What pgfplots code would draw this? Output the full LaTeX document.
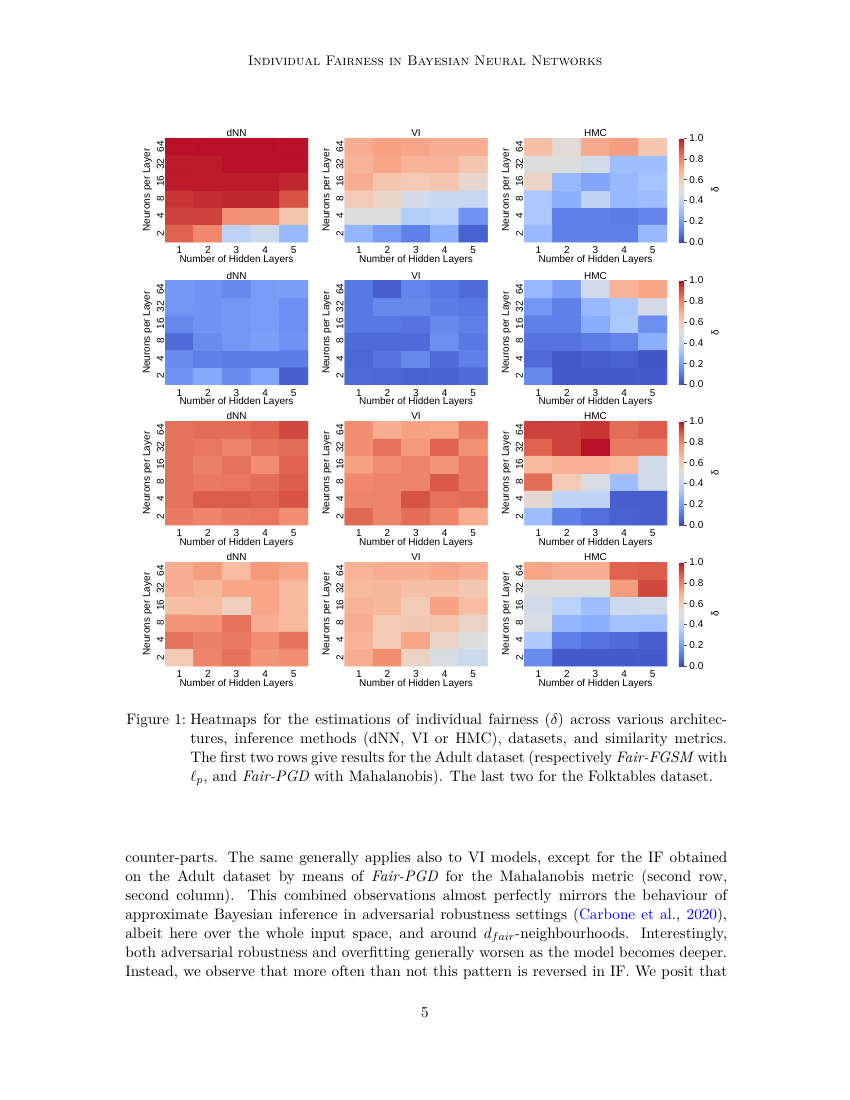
\documentclass[border=0pt]{standalone}
\usepackage{pgfplots}
\pgfplotsset{compat=1.18}
\usepackage{pgfplotstable}
\usepackage{fontspec}
\newfontfamily\chartfont{Liberation Sans}
\newcommand\cf{\chartfont\fontsize{7.2}{8.6}\selectfont}
\newcommand\tf{\fontsize{10.95}{13.6}\selectfont}

\pgfplotsset{
 colormap={coolwarm}{rgb255=(59,76,192) rgb255=(68,90,204) rgb255=(77,104,215) rgb255=(87,117,225)
 rgb255=(98,130,234) rgb255=(108,142,241) rgb255=(119,154,247) rgb255=(130,165,251)
 rgb255=(141,176,254) rgb255=(152,185,255) rgb255=(163,194,255) rgb255=(174,201,253)
 rgb255=(184,208,249) rgb255=(194,213,244) rgb255=(204,217,238) rgb255=(213,219,230)
 rgb255=(221,221,221) rgb255=(229,216,209) rgb255=(236,211,197) rgb255=(241,204,184)
 rgb255=(245,196,173) rgb255=(247,187,160) rgb255=(247,177,148) rgb255=(247,166,135)
 rgb255=(244,154,123) rgb255=(241,141,111) rgb255=(236,127,99) rgb255=(229,112,88)
 rgb255=(222,96,77) rgb255=(213,80,66) rgb255=(203,62,56) rgb255=(192,40,47) rgb255=(180,4,38)},
 hm/.style={
  scale only axis, width=102.96pt, height=74.88pt, anchor=north west,
  xmin=0.5, xmax=5.5, ymin=-0.5, ymax=5.5, enlargelimits=false,
  xtick={1,2,3,4,5}, xticklabels={1,2,3,4,5},
  ytick={0,1,2,3,4,5}, yticklabels={2,4,8,16,32,64},
  axis line style={draw=none}, major tick length=0pt, tick style={draw=none},
  colormap name=coolwarm, point meta min=0, point meta max=1,
  xlabel={Number of Hidden Layers}, ylabel={Neurons per Layer},
  label style={font=\cf},
  xlabel style={at={(axis description cs:0.5,0)}, anchor=center, yshift=-12.8pt},
  ylabel style={at={(axis description cs:-0.123,0.5)}, anchor=center},
  every axis title shift=0pt,
  title style={font=\cf, at={(axis description cs:0.5,1)}, anchor=center, yshift=3.5pt},
  tick label style={font=\cf},
  xticklabel style={anchor=north, inner sep=0pt, yshift=-3.2pt},
  yticklabel style={rotate=90, anchor=south, inner sep=0.6pt},
 },
 cb/.style={colorbar, colorbar style={
  at={([xshift=6.5pt]parent axis.north east)}, anchor=north west,
  width=3.8pt,
  ytick={0,0.2,0.4,0.6,0.8,1},
  axis line style={draw=none},
  tick align=outside, major tick length=2pt, ytick pos=right,
  tick style={black!70, line width=0.4pt},
  ylabel={δ}, ylabel style={font=\cf, at={(axis description cs:6.87,0.5)}, anchor=center},
  yticklabel style={font=\cf, anchor=west, inner sep=0pt, xshift=1.6pt,
    /pgf/number format/.cd, fixed, fixed zerofill, precision=1, assume math mode=true},
 }},
}

% ---- data: x = hidden layers, y = index of neurons (0:2,1:4,2:8,3:16,4:32,5:64)
\pgfplotstableread[row sep=\\]{x y v\\
1 0 .87\\ 2 0 .79\\ 3 0 .39\\ 4 0 .44\\ 5 0 .28\\
1 1 .93\\ 2 1 .93\\ 3 1 .77\\ 4 1 .77\\ 5 1 .63\\
1 2 .95\\ 2 2 .96\\ 3 2 .97\\ 4 2 .97\\ 5 2 .90\\
1 3 .98\\ 2 3 .98\\ 3 3 .98\\ 4 3 .98\\ 5 3 .97\\
1 4 .98\\ 2 4 .98\\ 3 4 .99\\ 4 4 .99\\ 5 4 .99\\
1 5 .99\\ 2 5 .99\\ 3 5 .99\\ 4 5 .99\\ 5 5 .99\\
}\dAa
\pgfplotstableread[row sep=\\]{x y v\\
1 0 .27\\ 2 0 .19\\ 3 0 .12\\ 4 0 .25\\ 5 0 .05\\
1 1 .50\\ 2 1 .50\\ 3 1 .36\\ 4 1 .38\\ 5 1 .17\\
1 2 .60\\ 2 2 .55\\ 3 2 .47\\ 4 2 .42\\ 5 2 .42\\
1 3 .70\\ 2 3 .62\\ 3 3 .60\\ 4 3 .62\\ 5 3 .54\\
1 4 .68\\ 2 4 .72\\ 3 4 .68\\ 4 4 .68\\ 5 4 .62\\
1 5 .70\\ 2 5 .73\\ 3 5 .72\\ 4 5 .70\\ 5 5 .70\\
}\dAb
\pgfplotstableread[row sep=\\]{x y v\\
1 0 .28\\ 2 0 .12\\ 3 0 .12\\ 4 0 .12\\ 5 0 .28\\
1 1 .34\\ 2 1 .12\\ 3 1 .12\\ 4 1 .11\\ 5 1 .13\\
1 2 .34\\ 2 2 .25\\ 3 2 .40\\ 4 2 .28\\ 5 2 .30\\
1 3 .56\\ 2 3 .28\\ 3 3 .22\\ 4 3 .28\\ 5 3 .32\\
1 4 .50\\ 2 4 .50\\ 3 4 .46\\ 4 4 .30\\ 5 4 .30\\
1 5 .64\\ 2 5 .52\\ 3 5 .71\\ 4 5 .74\\ 5 5 .62\\
}\dAc
\pgfplotstableread[row sep=\\]{x y v\\
1 0 .17\\ 2 0 .23\\ 3 0 .15\\ 4 0 .22\\ 5 0 .04\\
1 1 .15\\ 2 1 .12\\ 3 1 .11\\ 4 1 .11\\ 5 1 .11\\
1 2 .07\\ 2 2 .15\\ 3 2 .18\\ 4 2 .20\\ 5 2 .17\\
1 3 .14\\ 2 3 .17\\ 3 3 .18\\ 4 3 .19\\ 5 3 .16\\
1 4 .18\\ 2 4 .17\\ 3 4 .18\\ 4 4 .19\\ 5 4 .16\\
1 5 .18\\ 2 5 .17\\ 3 5 .14\\ 4 5 .19\\ 5 5 .20\\
}\dBa
\pgfplotstableread[row sep=\\]{x y v\\
1 0 .07\\ 2 0 .06\\ 3 0 .05\\ 4 0 .05\\ 5 0 .07\\
1 1 .06\\ 2 1 .09\\ 3 1 .14\\ 4 1 .07\\ 5 1 .12\\
1 2 .07\\ 2 2 .07\\ 3 2 .07\\ 4 2 .16\\ 5 2 .10\\
1 3 .10\\ 2 3 .10\\ 3 3 .09\\ 4 3 .14\\ 5 3 .12\\
1 4 .10\\ 2 4 .14\\ 3 4 .14\\ 4 4 .11\\ 5 4 .10\\
1 5 .10\\ 2 5 .04\\ 3 5 .13\\ 4 5 .10\\ 5 5 .07\\
}\dBb
\pgfplotstableread[row sep=\\]{x y v\\
1 0 .14\\ 2 0 .03\\ 3 0 .03\\ 4 0 .03\\ 5 0 .03\\
1 1 .07\\ 2 1 .03\\ 3 1 .04\\ 4 1 .05\\ 5 1 .02\\
1 2 .09\\ 2 2 .09\\ 3 2 .11\\ 4 2 .13\\ 5 2 .25\\
1 3 .12\\ 2 3 .12\\ 3 3 .24\\ 4 3 .34\\ 5 3 .16\\
1 4 .18\\ 2 4 .12\\ 3 4 .28\\ 4 4 .33\\ 5 4 .47\\
1 5 .28\\ 2 5 .20\\ 3 5 .45\\ 4 5 .68\\ 5 5 .72\\
}\dBc
\pgfplotstableread[row sep=\\]{x y v\\
1 0 .82\\ 2 0 .80\\ 3 0 .82\\ 4 0 .83\\ 5 0 .78\\
1 1 .84\\ 2 1 .88\\ 3 1 .88\\ 4 1 .87\\ 5 1 .90\\
1 2 .84\\ 2 2 .82\\ 3 2 .83\\ 4 2 .85\\ 5 2 .88\\
1 3 .84\\ 2 3 .81\\ 3 3 .84\\ 4 3 .78\\ 5 3 .87\\
1 4 .84\\ 2 4 .83\\ 3 4 .80\\ 4 4 .84\\ 5 4 .85\\
1 5 .84\\ 2 5 .85\\ 3 5 .85\\ 4 5 .87\\ 5 5 .92\\
}\dCa
\pgfplotstableread[row sep=\\]{x y v\\
1 0 .86\\ 2 0 .80\\ 3 0 .85\\ 4 0 .80\\ 5 0 .70\\
1 1 .80\\ 2 1 .80\\ 3 1 .90\\ 4 1 .84\\ 5 1 .85\\
1 2 .79\\ 2 2 .80\\ 3 2 .80\\ 4 2 .89\\ 5 2 .82\\
1 3 .73\\ 2 3 .78\\ 3 3 .80\\ 4 3 .76\\ 5 3 .82\\
1 4 .78\\ 2 4 .84\\ 3 4 .75\\ 4 4 .87\\ 5 4 .77\\
1 5 .78\\ 2 5 .70\\ 3 5 .73\\ 4 5 .72\\ 5 5 .82\\
}\dCb
\pgfplotstableread[row sep=\\]{x y v\\
1 0 .30\\ 2 0 .12\\ 3 0 .08\\ 4 0 .05\\ 5 0 .04\\
1 1 .53\\ 2 1 .40\\ 3 1 .40\\ 4 1 .04\\ 5 1 .04\\
1 2 .85\\ 2 2 .60\\ 3 2 .48\\ 4 2 .30\\ 5 2 .46\\
1 3 .66\\ 2 3 .69\\ 3 3 .69\\ 4 3 .66\\ 5 3 .46\\
1 4 .87\\ 2 4 .93\\ 3 4 .99\\ 4 4 .82\\ 5 4 .82\\
1 5 .93\\ 2 5 .93\\ 3 5 .95\\ 4 5 .85\\ 5 5 .88\\
}\dCc
\pgfplotstableread[row sep=\\]{x y v\\
1 0 .60\\ 2 0 .80\\ 3 0 .84\\ 4 0 .76\\ 5 0 .78\\
1 1 .84\\ 2 1 .81\\ 3 1 .82\\ 4 1 .78\\ 5 1 .84\\
1 2 .76\\ 2 2 .77\\ 3 2 .84\\ 4 2 .70\\ 5 2 .66\\
1 3 .64\\ 2 3 .65\\ 3 3 .58\\ 4 3 .72\\ 5 3 .66\\
1 4 .70\\ 2 4 .67\\ 3 4 .72\\ 4 4 .72\\ 5 4 .66\\
1 5 .70\\ 2 5 .74\\ 3 5 .65\\ 4 5 .75\\ 5 5 .72\\
}\dDa
\pgfplotstableread[row sep=\\]{x y v\\
1 0 .70\\ 2 0 .78\\ 3 0 .56\\ 4 0 .48\\ 5 0 .44\\
1 1 .68\\ 2 1 .60\\ 3 1 .72\\ 4 1 .56\\ 5 1 .50\\
1 2 .70\\ 2 2 .60\\ 3 2 .61\\ 4 2 .63\\ 5 2 .56\\
1 3 .68\\ 2 3 .67\\ 3 3 .60\\ 4 3 .73\\ 5 3 .65\\
1 4 .66\\ 2 4 .67\\ 3 4 .64\\ 4 4 .64\\ 5 4 .61\\
1 5 .68\\ 2 5 .70\\ 3 5 .70\\ 4 5 .72\\ 5 5 .70\\
}\dDb
\pgfplotstableread[row sep=\\]{x y v\\
1 0 .15\\ 2 0 .03\\ 3 0 .03\\ 4 0 .03\\ 5 0 .03\\
1 1 .35\\ 2 1 .12\\ 3 1 .09\\ 4 1 .07\\ 5 1 .04\\
1 2 .48\\ 2 2 .27\\ 3 2 .25\\ 4 2 .31\\ 5 2 .31\\
1 3 .46\\ 2 3 .38\\ 3 3 .30\\ 4 3 .44\\ 5 3 .46\\
1 4 .50\\ 2 4 .50\\ 3 4 .50\\ 4 4 .74\\ 5 4 .92\\
1 5 .72\\ 2 5 .70\\ 3 5 .70\\ 4 5 .87\\ 5 5 .88\\
}\dDc

\newcommand\heat[5]{%
\begin{axis}[hm, at={({#1*0.72pt},{-#2*0.72pt})}, title={#3}, #5]
\addplot[matrix plot*, mesh/cols=5, point meta=explicit] table[x=x,y=y,meta=v]{#4};
\end{axis}}

\begin{document}
\begin{tikzpicture}
\path[use as bounding box] (0,0) rectangle (612pt,-792pt);
\heat{165}{138}{dNN}{\dAa}{}
\heat{344.5}{138}{VI}{\dAb}{}
\heat{524}{138}{HMC}{\dAc}{cb}
\heat{165}{280.5}{dNN}{\dBa}{}
\heat{344.5}{280.5}{VI}{\dBb}{}
\heat{524}{280.5}{HMC}{\dBc}{cb}
\heat{165}{421}{dNN}{\dCa}{}
\heat{344.5}{421}{VI}{\dCb}{}
\heat{524}{421}{HMC}{\dCc}{cb}
\heat{165}{562}{dNN}{\dDa}{}
\heat{344.5}{562}{VI}{\dDb}{}
\heat{524}{562}{HMC}{\dDc}{cb}
\begin{scope}[x=0.72pt,y=-0.72pt]
\node[anchor=base, inner sep=0pt] at (425,66) {\fontsize{10}{12}\selectfont\textsc{Individual Fairness in Bayesian Neural Networks}};
\node[anchor=base west, inner sep=0pt] at (126,724.5) {\tf Figure 1:};
\node[anchor=base west, inner sep=0pt] at (190,724.5) {\tf\makebox[386.6pt][s]{Heatmaps for the estimations of individual fairness ($\delta$) across various architec-}};
\node[anchor=base west, inner sep=0pt] at (190,743.4) {\tf\makebox[386.6pt][s]{tures, inference methods (dNN, VI or HMC), datasets, and similarity metrics.}};
\node[anchor=base west, inner sep=0pt] at (190,762.3) {\tf\makebox[386.6pt][s]{The first two rows give results for the Adult dataset (respectively \textit{Fair-FGSM} with}};
\node[anchor=base west, inner sep=0pt] at (190,781.2) {\tf $\ell_p$, and \textit{Fair-PGD} with Mahalanobis). The last two for the Folktables dataset.};
\node[anchor=base west, inner sep=0pt] at (125,862.6) {\tf\makebox[433.4pt][s]{counter-parts. The same generally applies also to VI models, except for the IF obtained}};
\node[anchor=base west, inner sep=0pt] at (125,881.5) {\tf\makebox[433.4pt][s]{on the Adult dataset by means of \textit{Fair-PGD} for the Mahalanobis metric (second row,}};
\node[anchor=base west, inner sep=0pt] at (125,900.4) {\tf\makebox[433.4pt][s]{second column). This combined observations almost perfectly mirrors the behaviour of}};
\node[anchor=base west, inner sep=0pt] at (125,919.3) {\tf\makebox[433.4pt][s]{approximate Bayesian inference in adversarial robustness settings ({\color{blue}Carbone et al.}, {\color{blue}2020}),}};
\node[anchor=base west, inner sep=0pt] at (125,938.2) {\tf\makebox[433.4pt][s]{albeit here over the whole input space, and around $d_{fair}$-neighbourhoods. Interestingly,}};
\node[anchor=base west, inner sep=0pt] at (125,957.1) {\tf\makebox[433.4pt][s]{both adversarial robustness and overfitting generally worsen as the model becomes deeper.}};
\node[anchor=base west, inner sep=0pt] at (125,976.0) {\tf\makebox[433.4pt][s]{Instead, we observe that more often than not this pattern is reversed in IF. We posit that}};
\node[anchor=base, inner sep=0pt] at (425,1017.8) {\tf 5};
\end{scope}
\end{tikzpicture}
\end{document}
